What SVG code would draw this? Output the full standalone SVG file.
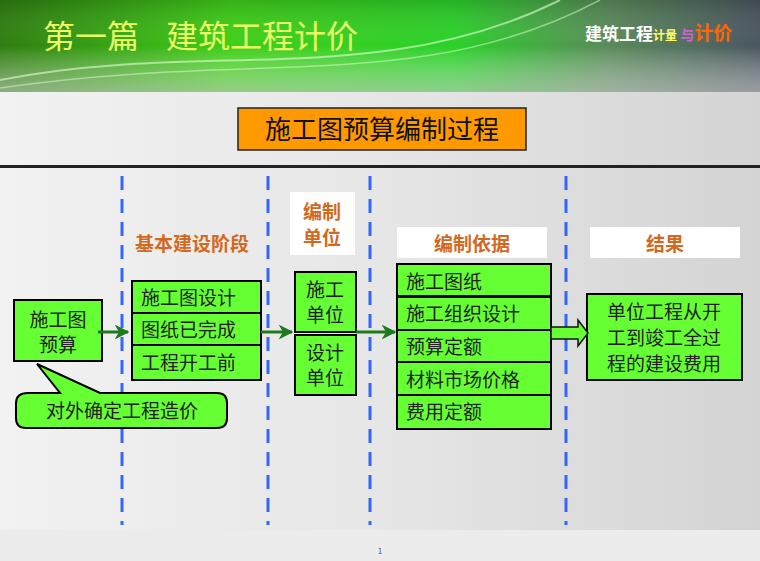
<svg xmlns="http://www.w3.org/2000/svg" width="760" height="561" viewBox="0 0 760 561">
<defs>
<linearGradient id="hdr" x1="0" y1="0" x2="1" y2="0"><stop offset="0" stop-color="#2f7d10"/><stop offset="0.3" stop-color="#3fce18"/><stop offset="0.6" stop-color="#2bd02a"/><stop offset="0.8" stop-color="#5a8a5a"/><stop offset="1" stop-color="#4a5560"/></linearGradient>
<linearGradient id="hdr2" x1="0" y1="0" x2="0" y2="1"><stop offset="0" stop-color="#000" stop-opacity="0.15"/><stop offset="0.5" stop-color="#fff" stop-opacity="0"/><stop offset="1" stop-color="#ccc" stop-opacity="0.6"/></linearGradient>
<linearGradient id="bg" x1="0" y1="0" x2="1" y2="0"><stop offset="0" stop-color="#f2f2f2"/><stop offset="0.5" stop-color="#e6e6e6"/><stop offset="1" stop-color="#d4d4d4"/></linearGradient>
<marker id="ah" viewBox="0 0 10 10" refX="9" refY="5" markerWidth="5" markerHeight="5" orient="auto"><path d="M0,0 L10,5 L0,10 L3,5 Z" fill="#1e7a1e"/></marker>
</defs>
<style>
.t{font-family:"Noto Sans CJK SC",sans-serif}
.b{fill:#66ff33;stroke:#000;stroke-width:2}
.bt{font-family:"Noto Sans CJK SC",serif;font-size:19px;fill:#222}
.hd{font-family:"Noto Sans CJK SC",sans-serif;font-size:19px;font-weight:bold;fill:#d2691e}
.dash{stroke:#3366ff;stroke-width:3;stroke-dasharray:14,9;fill:none}
.ar{stroke:#1e7a1e;stroke-width:3;fill:none;marker-end:url(#ah)}
</style>
<rect width="760" height="561" fill="url(#bg)"/>
<rect width="760" height="92" fill="url(#hdr)"/>
<rect width="760" height="92" fill="url(#hdr2)"/>
<path d="M0,80 C200,40 380,90 560,0" stroke="#dfffd0" stroke-width="2" fill="none" opacity="0.6"/>
<path d="M0,88 C260,50 420,95 600,0" stroke="#dfffd0" stroke-width="1.5" fill="none" opacity="0.5"/>
<text x="43" y="48" class="t" font-size="32" fill="#eaff66">第一篇<tspan x="166">建筑工程计价</tspan></text>
<text x="585" y="40" class="t" font-size="17" font-weight="bold" fill="#fff">建筑工程<tspan fill="#ffff66" font-size="12">计量</tspan><tspan fill="#cc66cc" font-size="14"> 与</tspan><tspan fill="#ff6600" font-size="19">计价</tspan></text>
<rect x="0" y="165" width="760" height="3" fill="#222"/>
<rect x="0" y="530" width="760" height="31" fill="#ececec"/>
<text x="380" y="554" class="t" font-size="8" fill="#555" text-anchor="middle">1</text>
<g id="title"><rect x="238" y="108" width="288" height="42" fill="#ff9900" stroke="#222" stroke-width="1.5"/><text x="382" y="139" class="t" font-size="26" text-anchor="middle" fill="#111">施工图预算编制过程</text></g>
<g id="dividers">
<line x1="122" y1="176" x2="122" y2="525" class="dash"/><line x1="268" y1="176" x2="268" y2="525" class="dash"/><line x1="370" y1="176" x2="370" y2="525" class="dash"/><line x1="566" y1="176" x2="566" y2="525" class="dash"/>
</g>
<g id="headers">
<text x="192" y="251" class="hd" text-anchor="middle">基本建设阶段</text>
<rect x="290" y="192" width="65" height="63" fill="#fff"/><text x="322" y="219" class="hd" text-anchor="middle">编制</text><text x="322" y="245" class="hd" text-anchor="middle">单位</text>
<rect x="397" y="227" width="150" height="31" fill="#fff"/><text x="472" y="251" class="hd" text-anchor="middle">编制依据</text>
<rect x="590" y="227" width="150" height="31" fill="#fff"/><text x="665" y="251" class="hd" text-anchor="middle">结果</text>
</g>
<g id="budget"><rect x="14" y="300" width="88" height="61" class="b"/><text x="58" y="327" class="bt" text-anchor="middle">施工图</text><text x="58" y="352" class="bt" text-anchor="middle">预算</text></g>
<g id="callout"><path d="M28,393 L60,393 L37,364 L100,393 L217,393 Q227,393 227,403 L227,418 Q227,428 217,428 L26,428 Q16,428 16,418 L16,403 Q16,393 28,393 Z" class="b"/><text x="122" y="418" class="bt" text-anchor="middle">对外确定工程造价</text></g>
<g id="stage">
<rect x="132" y="281" width="129" height="32" class="b"/><text x="141" y="305" class="bt">施工图设计</text>
<rect x="132" y="313" width="129" height="32" class="b"/><text x="141" y="337" class="bt">图纸已完成</text>
<rect x="132" y="345" width="129" height="35" class="b"/><text x="141" y="370" class="bt">工程开工前</text>
</g>
<g id="units">
<rect x="295" y="272" width="61" height="60" class="b"/><text x="325" y="297" class="bt" text-anchor="middle">施工</text><text x="325" y="322" class="bt" text-anchor="middle">单位</text>
<rect x="295" y="335" width="61" height="60" class="b"/><text x="325" y="360" class="bt" text-anchor="middle">设计</text><text x="325" y="385" class="bt" text-anchor="middle">单位</text>
</g>
<g id="basis">
<rect x="397" y="264" width="154" height="32" class="b"/><text x="406" y="289" class="bt">施工图纸</text>
<rect x="397" y="297" width="154" height="33" class="b"/><text x="406" y="321" class="bt">施工组织设计</text>
<rect x="397" y="330" width="154" height="32" class="b"/><text x="406" y="354" class="bt">预算定额</text>
<rect x="397" y="362" width="154" height="33" class="b"/><text x="406" y="387" class="bt">材料市场价格</text>
<rect x="397" y="395" width="154" height="34" class="b"/><text x="406" y="419" class="bt">费用定额</text>
</g>
<g id="result"><rect x="587" y="294" width="155" height="86" class="b"/><text x="664" y="319" class="bt" text-anchor="middle">单位工程从开</text><text x="664" y="345" class="bt" text-anchor="middle">工到竣工全过</text><text x="664" y="371" class="bt" text-anchor="middle">程的建设费用</text></g>
<g id="connectors">
<line x1="98" y1="332" x2="128" y2="332" class="ar"/>
<line x1="261" y1="332" x2="292" y2="332" class="ar"/>
<line x1="356" y1="332" x2="395" y2="332" class="ar"/>
<path d="M551,327 L578,327 L578,320 L588,333 L578,346 L578,339 L551,339 Z" fill="#66ff33" stroke="#111" stroke-width="1.5"/>
</g>
</svg>
